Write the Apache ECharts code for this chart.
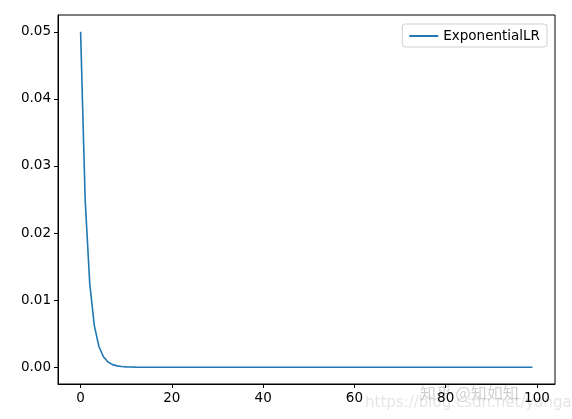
<!DOCTYPE html>
<html>
<head>
<meta charset="utf-8">
<script src="https://cdn.jsdelivr.net/npm/echarts@6/dist/echarts.min.js"></script>
<style>
  html, body { margin: 0; padding: 0; background: #fff; }
  #chart { width: 572px; height: 419px; }
</style>
</head>
<body>
<div id="chart"></div>
<script>
// learning rate per epoch (halves each step, flat at ~0 after ~12)
const lrValues = [
  0.05, 0.025, 0.0125, 0.00625, 0.003125, 0.0015625, 0.00078125, 0.00039, 0.0002, 0.0001,
  0.00005, 0.000024, 0.000012, 0.000006, 0.000003, 0.0000015, 0, 0, 0, 0,
  0, 0, 0, 0, 0, 0, 0, 0, 0, 0,
  0, 0, 0, 0, 0, 0, 0, 0, 0, 0,
  0, 0, 0, 0, 0, 0, 0, 0, 0, 0,
  0, 0, 0, 0, 0, 0, 0, 0, 0, 0,
  0, 0, 0, 0, 0, 0, 0, 0, 0, 0,
  0, 0, 0, 0, 0, 0, 0, 0, 0, 0,
  0, 0, 0, 0, 0, 0, 0, 0, 0, 0,
  0, 0, 0, 0, 0, 0, 0, 0, 0, 0
];
const xTicks = [0, 20, 40, 60, 80, 100];
const yTicks = [0, 0.01, 0.02, 0.03, 0.04, 0.05];
const seriesName = 'ExponentialLR';

const chart = echarts.init(document.getElementById('chart'));
const font = 'DejaVu Sans';

const option = {
  animation: false,
  backgroundColor: '#fff',
  grid: {
    left: 58, top: 15, right: 17, bottom: 35,
    show: true, borderColor: '#000', borderWidth: 1
  },
  legend: {
    right: 25, top: 24,
    data: [seriesName],
    icon: 'rect',
    itemWidth: 29, itemHeight: 2,
    itemGap: 8,
    padding: [5, 7, 4, 7],
    borderColor: '#d0d0d0', borderWidth: 1, borderRadius: 3,
    backgroundColor: '#fff',
    textStyle: { fontFamily: font, fontSize: 13.5, color: '#000' }
  },
  xAxis: {
    type: 'value',
    min: -4.95, max: 103.95,
    splitLine: { show: false },
    axisLine: { show: true, onZero: false, lineStyle: { color: '#000', width: 1 } },
    axisTick: { show: true, inside: false, length: 4, customValues: xTicks, lineStyle: { color: '#000' } },
    axisLabel: { customValues: xTicks, fontFamily: font, fontSize: 13.5, color: '#000', margin: 7 }
  },
  yAxis: {
    type: 'value',
    min: -0.0025, max: 0.0525,
    splitLine: { show: false },
    axisLine: { show: true, onZero: false, lineStyle: { color: '#000', width: 1 } },
    axisTick: { show: true, inside: false, length: 4, customValues: yTicks, lineStyle: { color: '#000' } },
    axisLabel: {
      customValues: yTicks, fontFamily: font, fontSize: 13.5, color: '#000', margin: 7,
      formatter: v => v.toFixed(2)
    }
  },
  series: [{
    name: seriesName,
    type: 'line',
    data: lrValues.map((v, i) => [i, v]),
    showSymbol: false,
    lineStyle: { color: '#1f77b4', width: 1.6 },
    itemStyle: { color: '#1f77b4' }
  }],
  graphic: [
    {
      type: 'text', left: 420, top: 385,
      style: { text: '知乎 @知如知', fill: 'rgba(120,120,120,0.35)', font: '16px "Noto Sans CJK SC"' }
    },
    {
      type: 'text', left: 365, top: 396,
      style: { text: 'https://blog.csdn.net/yangai', fill: 'rgba(150,150,150,0.25)', font: '15px "DejaVu Sans"' }
    }
  ]
};

chart.setOption(option);
</script>
</body>
</html>
